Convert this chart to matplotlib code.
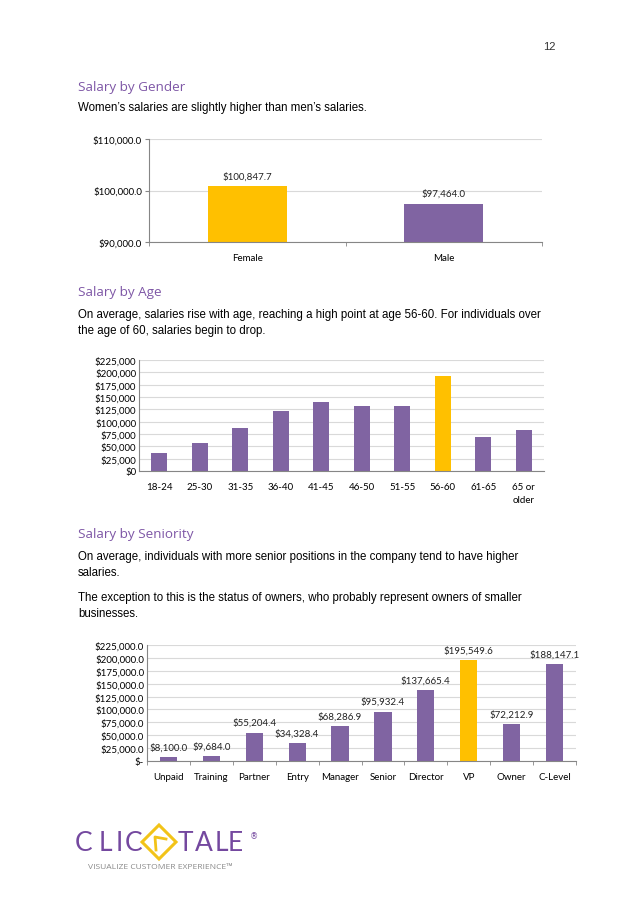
import numpy as np
import matplotlib
matplotlib.use("Agg")
import matplotlib.pyplot as plt
from matplotlib.patches import Polygon
from matplotlib.ticker import FuncFormatter

W, H = 638, 903
PURPLE = "#8064A2"
YELLOW = "#FFC000"
GRID = "#D9D9D9"
AXIS = "#868686"
HEAD = "#7E57A6"
CHART_FONT = "Lato"
BODY_FONT = "Liberation Sans"

# Data
gender_labels = ["Female", "Male"]
gender_values = [100847.7, 97464.0]

age_labels = ["18-24", "25-30", "31-35", "36-40", "41-45", "46-50",
              "51-55", "56-60", "61-65", "65 or\nolder"]
age_values = [37000, 57300, 86200, 122000, 139500, 132700,
              131400, 193300, 69400, 83500]

seniority_labels = ["Unpaid", "Training", "Partner", "Entry", "Manager",
                    "Senior", "Director", "VP", "Owner", "C-Level"]
seniority_values = [8100.0, 9684.0, 55204.4, 34328.4, 68286.9,
                    95932.4, 137665.4, 195549.6, 72212.9, 188147.1]


def px(x, y):
    return x / W, 1 - y / H


def add_axes(left, top, right, bottom):
    return fig.add_axes([left / W, 1 - bottom / H, (right - left) / W, (bottom - top) / H])


def style_axes(ax, between_ticks=False):
    for s in ["top", "right"]:
        ax.spines[s].set_visible(False)
    for s in ["left", "bottom"]:
        ax.spines[s].set_color(AXIS)
        ax.spines[s].set_linewidth(0.8)
    ax.yaxis.grid(True, color=GRID, linewidth=0.8)
    ax.set_axisbelow(True)
    ax.tick_params(axis="y", length=3, color=AXIS, labelsize=7, pad=2)
    ax.tick_params(axis="x", length=0, labelsize=7, pad=8)
    if between_ticks:
        n = len(ax.get_xticks())
        ax.set_xticks(np.arange(n + 1) - 0.5, minor=True)
        ax.tick_params(axis="x", which="minor", length=3, color=AXIS)
    for lbl in ax.get_xticklabels() + ax.get_yticklabels():
        lbl.set_fontfamily(CHART_FONT)


def label_bars(ax, xs, vals, fmt):
    for x, v in zip(xs, vals):
        ax.annotate(fmt(v), (x, v), xytext=(0, 4), textcoords="offset points",
                    ha="center", va="bottom", fontsize=7, family=CHART_FONT,
                    color="#222222")


fig = plt.figure(figsize=(W / 100, H / 100), dpi=100)

# page number
fig.text(*px(556, 47), "12", ha="right", va="center", fontsize=8, family=BODY_FONT, color="#333333")


def heading(y, s):
    fig.text(*px(78, y), s, ha="left", va="center", fontsize=9.7, family="Open Sans", color=HEAD)


def body(y, s):
    fig.text(*px(78, y), s, ha="left", va="center", fontsize=8.3, family=BODY_FONT, color="black")


heading(87, "Salary by Gender")
body(108, "Women\u2019s salaries are slightly higher than men\u2019s salaries.")

heading(293, "Salary by Age")
body(315, "On average, salaries rise with age, reaching a high point at age 56-60. For individuals over")
body(331, "the age of 60, salaries begin to drop.")

heading(535, "Salary by Seniority")
body(557, "On average, individuals with more senior positions in the company tend to have higher")
body(573, "salaries.")
body(598, "The exception to this is the status of owners, who probably represent owners of smaller")
body(614, "businesses.")

# Chart 1: gender
ax1 = add_axes(149, 140, 542, 243)
x1 = np.arange(len(gender_labels))
colors1 = [YELLOW, PURPLE]
ax1.bar(x1, gender_values, width=0.4, color=colors1)
ax1.set_xlim(-0.5, len(gender_labels) - 0.5)
ax1.set_ylim(90000, 110000)
ax1.set_yticks([90000, 100000, 110000])
ax1.yaxis.set_major_formatter(FuncFormatter(lambda v, p: f"${v:,.1f}"))
ax1.set_xticks(x1)
ax1.set_xticklabels(gender_labels)
style_axes(ax1, between_ticks=True)
label_bars(ax1, x1, gender_values, lambda v: f"${v:,.1f}")

# Chart 2: age
ax2 = add_axes(139, 361, 544, 472)
x2 = np.arange(len(age_labels))
colors2 = [YELLOW if l == "56-60" else PURPLE for l in age_labels]
ax2.bar(x2, age_values, width=0.4, color=colors2)
ax2.set_xlim(-0.5, len(age_labels) - 0.5)
ax2.set_ylim(0, 225000)
ax2.set_yticks(np.arange(0, 225001, 25000))
ax2.yaxis.set_major_formatter(FuncFormatter(lambda v, p: f"${v:,.0f}"))
ax2.set_xticks(x2)
ax2.set_xticklabels(age_labels, va="top", linespacing=1.5)
style_axes(ax2)
ax2.tick_params(axis="y", length=0)

# Chart 3: seniority
ax3 = add_axes(147, 646, 576, 762)
x3 = np.arange(len(seniority_labels))
colors3 = [YELLOW if l == "VP" else PURPLE for l in seniority_labels]
ax3.bar(x3, seniority_values, width=0.4, color=colors3)
ax3.set_xlim(-0.5, len(seniority_labels) - 0.5)
ax3.set_ylim(0, 225000)
ax3.set_yticks(np.arange(0, 225001, 25000))
ax3.yaxis.set_major_formatter(FuncFormatter(lambda v, p: "$-" if v == 0 else f"${v:,.1f}"))
ax3.set_xticks(x3)
ax3.set_xticklabels(seniority_labels)
style_axes(ax3, between_ticks=True)
ax3.tick_params(axis="y", length=0)
label_bars(ax3, x3, seniority_values, lambda v: f"${v:,.1f}")

# logo: letters spaced out like the wide logotype
LOGO = "#74489F"
LOGO_YELLOW = "#F2C318"
for ch, x in zip("CLIC", [84, 105, 119, 134]):
    fig.text(*px(x, 844), ch, ha="center", va="center", fontsize=19, family="Lato", color=LOGO)
for ch, x in zip("TALE", [185, 204, 221, 235]):
    fig.text(*px(x, 844), ch, ha="center", va="center", fontsize=19, family="Lato", color=LOGO)
fig.text(*px(250, 837), "\u00ae", ha="left", va="center", fontsize=6, color=LOGO)
cx, cy, r = 159, 843, 17
diamond = [px(cx, cy - r), px(cx + r, cy), px(cx, cy + r), px(cx - r, cy)]
fig.patches.append(Polygon(diamond, closed=True, fill=False, edgecolor=LOGO_YELLOW,
                           linewidth=2.2, transform=fig.transFigure))
chev = [px(cx - 3, cy + 8), px(cx - 4, cy - 5), px(cx + 7, cy - 3)]
fig.lines.append(plt.Line2D([p[0] for p in chev], [p[1] for p in chev], color=LOGO_YELLOW,
                            linewidth=2, transform=fig.transFigure))
fig.text(*px(88, 868), "VISUALIZE CUSTOMER EXPERIENCE\u2122", ha="left", va="center",
         fontsize=6.1, family="Open Sans", color="#8A8A8A")

fig.savefig("out.png", dpi=100)
